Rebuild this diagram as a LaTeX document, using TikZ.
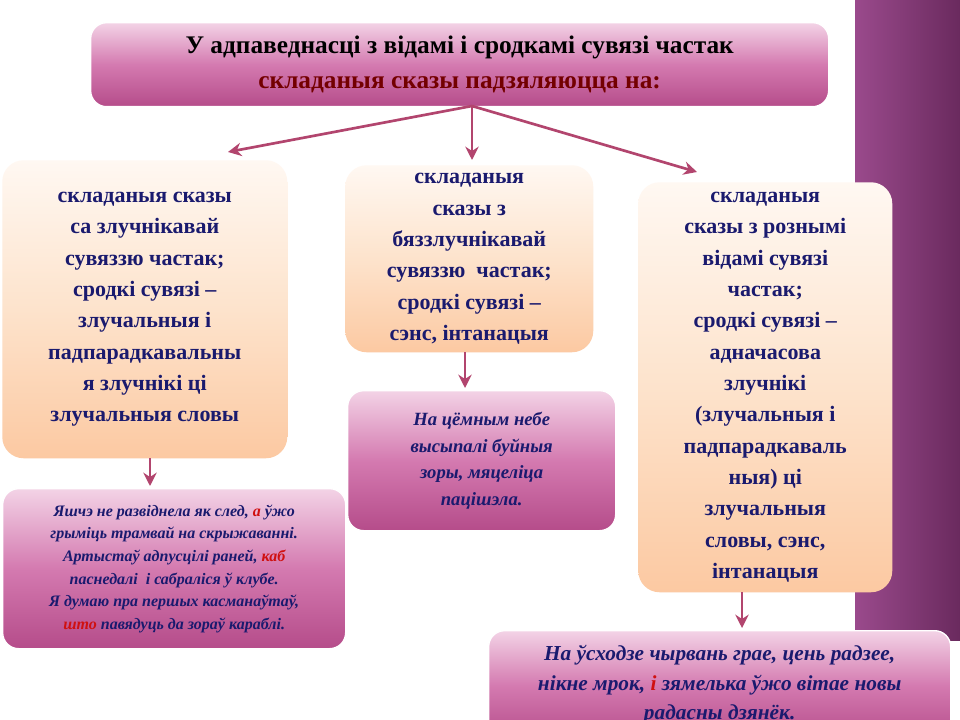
\documentclass[tikz,border=0pt]{standalone}
\usepackage{fontspec}
\setmainfont{Liberation Serif}
\usetikzlibrary{arrows.meta}
\definecolor{txtblue}{HTML}{1A1A6E}
\definecolor{arr}{HTML}{B2456E}
\definecolor{redw}{HTML}{D01010}
\definecolor{pktop}{HTML}{F3D3E6}
\definecolor{pkmid}{HTML}{D47AB0}
\definecolor{pkbot}{HTML}{B54C8A}
\definecolor{petop}{HTML}{FFF8F2}
\definecolor{pemid}{HTML}{FDE3CC}
\definecolor{pebot}{HTML}{FCC9A2}
\definecolor{stripa}{HTML}{9A4A8C}
\definecolor{stripb}{HTML}{6A2A5E}
\tikzset{
 peach/.style={rounded corners=16pt, top color=petop, bottom color=pebot, middle color=pemid, draw=none},
 pinkbox/.style={rounded corners=12pt, top color=pktop, bottom color=pkbot, middle color=pkmid, draw=white, line width=1pt},
 btxt/.style={text=txtblue, font=\bfseries\fontsize{16.5}{23.5}\selectfont, align=center},
 etxt/.style={text=txtblue, align=center},
 conn/.style={arr, line width=2pt, -{Stealth[length=10pt,width=10pt]}}
}
\begin{document}
\begin{tikzpicture}[x=0.75pt,y=-0.75pt]
\useasboundingbox (0,0) rectangle (960,720);
\fill[white] (0,0) rectangle (960,720);
\shade[left color=stripa, right color=stripb] (855,0) rectangle (960,640);
% title
\node[pinkbox, minimum width=738*0.75pt, minimum height=84*0.75pt, anchor=north west] (title) at (90,22) {};
\node[align=center, font=\bfseries\fontsize{19}{26}\selectfont] at (title.center) {У адпаведнасці з відамі і сродкамі сувязі частак\\ \textcolor{red!45!black}{складаныя сказы падзяляюцца на:}};
% main boxes
\node[peach, minimum width=285*0.75pt, minimum height=298*0.75pt, anchor=north west] (L) at (2,160) {};
\node[btxt] at (L.center) {складаныя сказы\\са злучнікавай\\сувяззю частак;\\сродкі сувязі –\\злучальныя і\\падпарадкавальны\\я злучнікі ці\\злучальныя словы};
\node[peach, minimum width=248*0.75pt, minimum height=187*0.75pt, anchor=north west] (M) at (345,165) {};
\node[btxt] at (M.center) {складаныя\\сказы з\\бяззлучнікавай\\сувяззю \ частак;\\сродкі сувязі –\\сэнс, інтанацыя};
\node[peach, minimum width=254*0.75pt, minimum height=410*0.75pt, anchor=north west] (R) at (638,182) {};
\node[btxt] at (R.center) {складаныя\\сказы з рознымі\\відамі сувязі\\частак;\\сродкі сувязі –\\аднача­сова\\злучнікі\\(злучальныя і\\падпарадкаваль\\ныя) ці\\злучальныя\\словы, сэнс,\\інтанацыя};
% examples
\node[pinkbox, minimum width=268*0.75pt, minimum height=140*0.75pt, anchor=north west] (ME) at (347,390) {};
\node[etxt, font=\bfseries\itshape\fontsize{14}{20}\selectfont] at (ME.center) {На цёмным небе\\высыпалі буйныя\\зоры, мяцеліца\\пацішэла.};
\node[pinkbox, minimum width=343*0.75pt, minimum height=160*0.75pt, anchor=north west] (LE) at (2,488) {};
\node[etxt, font=\bfseries\itshape\fontsize{12}{17}\selectfont] at (LE.center) {Яшчэ не развіднела як след, \textcolor{redw}{а} ўжо\\грыміць трамвай на скрыжаванні.\\Артыстаў адпусцілі раней, \textcolor{redw}{каб}\\паснедалі \ і сабраліся ў клубе.\\Я думаю пра першых касманаўтаў,\\\textcolor{redw}{што} павядуць да зораў караблі.};
\node[pinkbox, minimum width=462*0.75pt, minimum height=110*0.75pt, anchor=north west] (RE) at (488,630) {};
\node[etxt, font=\bfseries\itshape\fontsize{16}{22}\selectfont, anchor=north] at (RE.north) [yshift=-8pt] {На ўсходзе чырвань грае, цень радзее,\\нікне мрок, \textcolor{redw}{і} зямелька ўжо вітае новы\\радасны дзянёк.};
% connectors
\coordinate (src) at (472,106);
\draw[conn] (src) -- (228,152);
\draw[conn] (src) -- (472,160);
\draw[conn] (src) -- (697,172);
\draw[conn] (150,458) -- (150,486);
\draw[conn] (465,352) -- (465,388);
\draw[conn] (742,592) -- (742,628);
\end{tikzpicture}
\end{document}
